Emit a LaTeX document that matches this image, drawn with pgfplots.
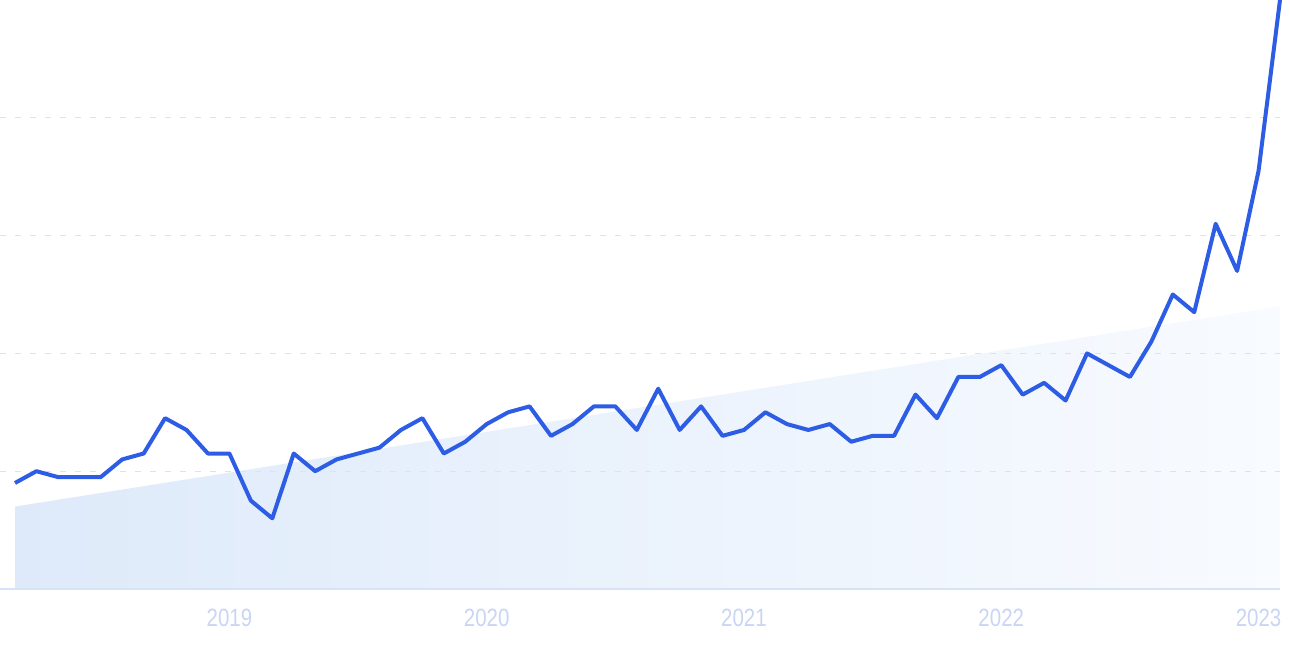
\documentclass[border=0pt]{standalone}
\usepackage{pgfplots}
\pgfplotsset{compat=1.18}
\usepackage{fontspec}
\newfontfamily\tickfont[FakeStretch=0.82]{Liberation Sans}
\definecolor{trendline}{HTML}{2D5DE4}
\definecolor{gridc}{HTML}{D6E3F8}
\definecolor{tickc}{HTML}{C8D5F4}
\definecolor{filll}{HTML}{DEEAFA}
\definecolor{fillr}{HTML}{F8FBFF}

\begin{document}
\begin{tikzpicture}
\begin{axis}[
    set layers,
    scale only axis,
    width=640pt, height=294.5pt,
    xmin=-0.7, xmax=59,
    ymin=0, ymax=100,
    clip=false,
    axis lines*=left,
    x axis line style={color=gridc, line width=0.6pt, -},
    y axis line style={draw=none},
    xtick={10,22,34,46,58},
    xticklabels={2019,2020,2021,2022,2023},
    xticklabel style={font=\tickfont\fontsize{12.5}{14}\selectfont, color=tickc,
        anchor=north, inner sep=0pt, yshift=-10pt},
    major tick length=0pt,
    ytick={20,40,60,80,100},
    yticklabels={},
    ymajorgrids,
    major grid style={color=gridc, line width=0.5pt, dash pattern=on 3pt off 4.5pt},
]
% trend band
\addplot[on layer=axis background, draw=none, left color=filll, right color=fillr]
    coordinates {(0,14) (59,48)} \closedcycle;
% monthly interest, Mar 2018 - Feb 2023
\addplot[color=trendline, line width=2pt, line join=round]
    coordinates {
    (0,18) (1,20) (2,19) (3,19) (4,19) (5,22) (6,23) (7,29) (8,27) (9,23)
    (10,23) (11,15) (12,12) (13,23) (14,20) (15,22) (16,23) (17,24) (18,27) (19,29)
    (20,23) (21,25) (22,28) (23,30) (24,31) (25,26) (26,28) (27,31) (28,31) (29,27)
    (30,34) (31,27) (32,31) (33,26) (34,27) (35,30) (36,28) (37,27) (38,28) (39,25)
    (40,26) (41,26) (42,33) (43,29) (44,36) (45,36) (46,38) (47,33) (48,35) (49,32)
    (50,40) (51,38) (52,36) (53,42) (54,50) (55,47) (56,62) (57,54) (58,71) (59,100)
    };
\coordinate (bl) at (rel axis cs:0,0);
\coordinate (tr) at (rel axis cs:1,1);
\end{axis}
\pgfresetboundingbox
\path[use as bounding box] ([yshift=-28pt]bl) rectangle ([xshift=5pt]tr);
\end{tikzpicture}
\end{document}
